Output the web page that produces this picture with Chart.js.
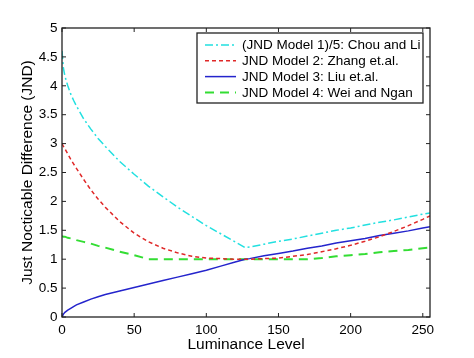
<!DOCTYPE html>
<html>
<head>
<meta charset="utf-8">
<script src="https://cdn.jsdelivr.net/npm/chart.js@4.4.0/dist/chart.umd.min.js"></script>
<style>
html, body { margin: 0; padding: 0; background: #fff; }
</style>
</head>
<body>
<canvas id="jnd" width="474" height="358"></canvas>
<script>
// luminance levels (x) and the four JND curves
const luminance = [0, 1, 2, 4, 6, 8, 10, 15, 20, 25, 30, 40, 50, 60, 70, 80, 90, 100, 110, 120, 127, 130, 140, 150, 160, 170, 180, 190, 200, 210, 220, 230, 240, 250, 255];
const chouLi = [4.60, 4.30, 4.17, 4.00, 3.86, 3.75, 3.65, 3.43, 3.25, 3.09, 2.95, 2.69, 2.47, 2.26, 2.08, 1.90, 1.74, 1.58, 1.44, 1.30, 1.20, 1.21, 1.26, 1.31, 1.35, 1.40, 1.45, 1.50, 1.54, 1.59, 1.64, 1.68, 1.73, 1.78, 1.80];
const zhang = [3.00, 2.95, 2.91, 2.82, 2.73, 2.65, 2.57, 2.38, 2.20, 2.04, 1.90, 1.65, 1.45, 1.30, 1.19, 1.11, 1.05, 1.02, 1.01, 1.00, 1.00, 1.00, 1.01, 1.02, 1.05, 1.08, 1.13, 1.18, 1.24, 1.31, 1.39, 1.48, 1.58, 1.69, 1.75];
const liu = [0, 0.05, 0.08, 0.12, 0.15, 0.18, 0.21, 0.26, 0.31, 0.35, 0.39, 0.45, 0.51, 0.57, 0.63, 0.69, 0.75, 0.81, 0.88, 0.95, 1.00, 1.01, 1.06, 1.10, 1.14, 1.19, 1.23, 1.28, 1.32, 1.36, 1.41, 1.45, 1.49, 1.54, 1.56];
const weiNgan = [1.40, 1.39, 1.39, 1.37, 1.36, 1.35, 1.33, 1.30, 1.27, 1.23, 1.20, 1.13, 1.07, 1.00, 1.00, 1.00, 1.00, 1.00, 1.00, 1.00, 1.00, 1.00, 1.00, 1.00, 1.00, 1.00, 1.02, 1.05, 1.07, 1.09, 1.12, 1.14, 1.16, 1.19, 1.20];

const xTicks = [0, 50, 100, 150, 200, 250];
const yTicks = [0, 0.5, 1, 1.5, 2, 2.5, 3, 3.5, 4, 4.5, 5];

const FONT = "'Liberation Sans', Arial, sans-serif";

function pts(ys) {
    return luminance.map((x, i) => ({ x: x, y: ys[i] }));
}

const data = {
    datasets: [
        { label: '(JND Model 1)/5: Chou and Li', data: pts(chouLi), borderColor: '#22e0e0', borderWidth: 1.5, borderDash: [8, 3, 2, 3] },
        { label: 'JND Model 2: Zhang et.al.', data: pts(zhang), borderColor: '#e02828', borderWidth: 1.5, borderDash: [4, 3] },
        { label: 'JND Model 3: Liu et.al.', data: pts(liu), borderColor: '#2424cc', borderWidth: 1.5 },
        { label: 'JND Model 4: Wei and Ngan', data: pts(weiNgan), borderColor: '#33dd33', borderWidth: 2, borderDash: [9, 6] }
    ]
};

// matlab style box with inward ticks on all four sides
const boxPlugin = {
    id: 'box',
    afterDatasetsDraw(chart) {
        const ctx = chart.ctx, a = chart.chartArea;
        const xs = chart.scales.x, ys = chart.scales.y;
        ctx.save();
        ctx.strokeStyle = '#222';
        ctx.lineWidth = 1.3;
        ctx.strokeRect(a.left, a.top, a.right - a.left, a.bottom - a.top);
        ctx.lineWidth = 1;
        ctx.beginPath();
        xTicks.forEach(v => {
            const px = xs.getPixelForValue(v);
            ctx.moveTo(px, a.bottom); ctx.lineTo(px, a.bottom - 4);
            ctx.moveTo(px, a.top); ctx.lineTo(px, a.top + 4);
        });
        yTicks.forEach(v => {
            const py = ys.getPixelForValue(v);
            ctx.moveTo(a.left, py); ctx.lineTo(a.left + 4, py);
            ctx.moveTo(a.right, py); ctx.lineTo(a.right - 4, py);
        });
        ctx.stroke();
        ctx.restore();
    },
    afterDraw(chart) {
        // legend box in the upper right of the plot
        const ctx = chart.ctx;
        const bx = 197, by = 33, bw = 226, bh = 70;
        ctx.save();
        ctx.fillStyle = '#fff';
        ctx.fillRect(bx, by, bw, bh);
        ctx.strokeStyle = '#222';
        ctx.lineWidth = 1.3;
        ctx.strokeRect(bx, by, bw, bh);
        ctx.font = '13.5px ' + FONT;
        ctx.textBaseline = 'middle';
        ctx.fillStyle = '#000';
        chart.data.datasets.forEach((ds, i) => {
            const y = 45 + i * 15.8;
            ctx.strokeStyle = ds.borderColor;
            ctx.lineWidth = ds.borderWidth;
            ctx.setLineDash(ds.borderDash || []);
            ctx.beginPath();
            ctx.moveTo(205, y);
            ctx.lineTo(236, y);
            ctx.stroke();
            ctx.setLineDash([]);
            ctx.fillText(ds.label, 242, y + 0.5);
        });
        ctx.restore();
    }
};

const config = {
    type: 'line',
    data: data,
    options: {
        responsive: false,
        animation: false,
        layout: { padding: { top: 28, right: 44, left: 0, bottom: 0 } },
        elements: { point: { radius: 0 }, line: { tension: 0, fill: false } },
        plugins: { legend: { display: false }, tooltip: { enabled: false } },
        scales: {
            x: {
                type: 'linear',
                min: 0,
                max: 255,
                afterBuildTicks: s => { s.ticks = xTicks.map(v => ({ value: v })); },
                afterFit: s => { s.height = 41; },
                grid: { display: false, drawTicks: false },
                border: { display: false },
                ticks: { color: '#000', padding: 4.7, maxRotation: 0, font: { family: FONT, size: 13.5 }, callback: v => String(v) },
                title: { display: true, text: 'Luminance Level', color: '#000', font: { family: FONT, size: 15.5 }, padding: { top: 0, bottom: 4 } }
            },
            y: {
                type: 'linear',
                min: 0,
                max: 5,
                afterBuildTicks: s => { s.ticks = yTicks.map(v => ({ value: v })); },
                afterFit: s => { s.width = 62; },
                grid: { display: false, drawTicks: false },
                border: { display: false },
                ticks: { color: '#000', padding: 4.5, font: { family: FONT, size: 13.5 }, callback: v => String(v) },
                title: { display: true, text: 'Just Nocticable Difference (JND)', color: '#000', font: { family: FONT, size: 15.5 }, padding: { top: 18.7, bottom: 0 } }
            }
        }
    },
    plugins: [boxPlugin]
};

var jndChart = new Chart(document.getElementById('jnd'), config);
</script>
</body>
</html>
